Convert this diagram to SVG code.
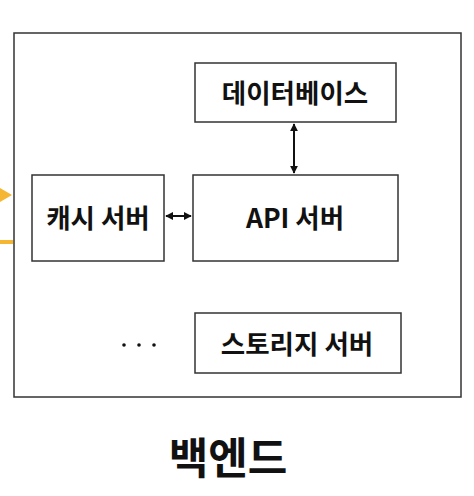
<svg xmlns="http://www.w3.org/2000/svg" width="474" height="496" viewBox="0 0 474 496">
<style>
.box{fill:#fff;stroke:#333;stroke-width:1.5}
.lbl{font-family:"Noto Sans CJK KR","Noto Sans",sans-serif;font-weight:700;font-size:26.5px;fill:#111;text-anchor:middle;dominant-baseline:central}
.conn{stroke:#111;stroke-width:2;fill:none}
</style>
<defs>
<marker id="ah" viewBox="0 0 10 10" refX="9" refY="5" markerWidth="4" markerHeight="4" orient="auto-start-reverse">
<path d="M0,0 L10,5 L0,10 z" fill="#111"/>
</marker>
</defs>
<rect width="474" height="496" fill="#fff"/>
<g id="incoming">
<polygon points="0,188 12,195 0,202" fill="#f5b731"/>
<rect x="0" y="240" width="13" height="4" fill="#f5b731"/>
</g>
<g id="backend"><rect class="box" x="14" y="33" width="447" height="364"/></g>
<g id="database"><rect class="box" x="195" y="63" width="201" height="59"/><text class="lbl" x="295" y="91">데이터베이스</text></g>
<g id="cache"><rect class="box" x="32" y="175" width="132" height="86"/><text class="lbl" x="98" y="216">캐시 서버</text></g>
<g id="api"><rect class="box" x="193" y="175" width="205" height="86"/><text class="lbl" x="295" y="216">API 서버</text></g>
<g id="storage"><rect class="box" x="195" y="313" width="206" height="60"/><text class="lbl" x="297" y="342">스토리지 서버</text></g>
<g id="dots" fill="#111"><circle cx="124" cy="345" r="1.8"/><circle cx="139" cy="345" r="1.8"/><circle cx="154" cy="345" r="1.8"/></g>
<g id="connectors">
<line class="conn" x1="166" y1="216" x2="191" y2="216" marker-start="url(#ah)" marker-end="url(#ah)"/>
<line class="conn" x1="294" y1="124" x2="294" y2="173" marker-start="url(#ah)" marker-end="url(#ah)"/>
</g>
<text x="228" y="455" font-family="'Noto Sans CJK KR','Noto Sans',sans-serif" font-weight="700" font-size="43" fill="#111" text-anchor="middle" dominant-baseline="central">백엔드</text>
</svg>
